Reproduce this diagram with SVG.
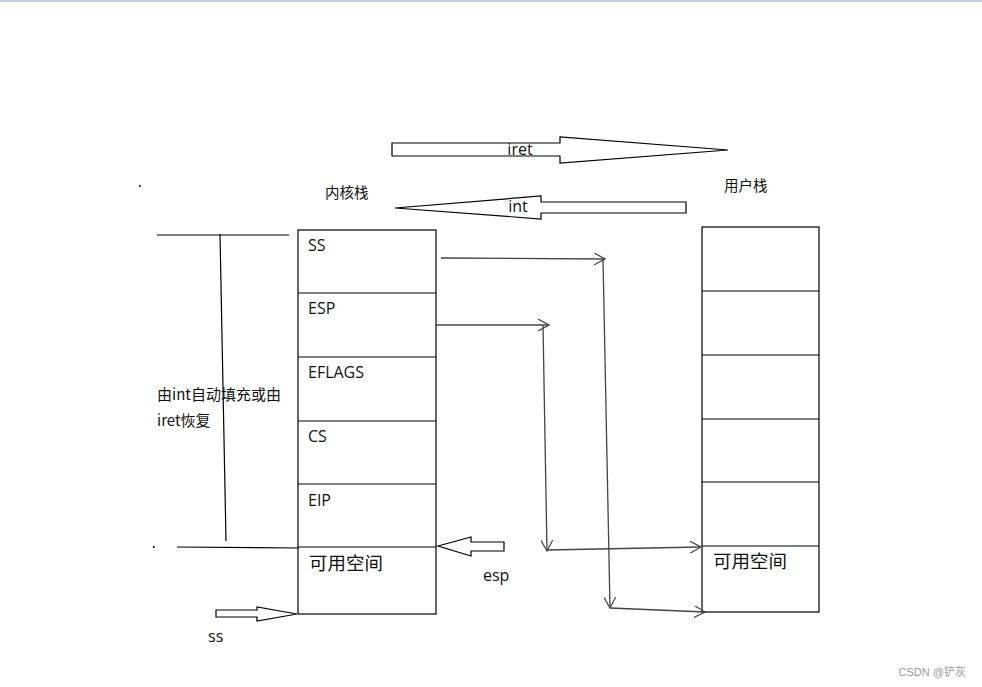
<svg xmlns="http://www.w3.org/2000/svg" width="982" height="687" viewBox="0 0 982 687">
<defs>
<style>
.box{fill:#fff;stroke:#000;stroke-width:1.2}
.div{stroke:#000;stroke-width:1.2;fill:none}
.t{font-family:"Open Sans","Noto Sans","Noto Sans CJK SC",sans-serif;font-size:16px;fill:#111}
.c{font-family:"Noto Sans CJK SC","Noto Sans",sans-serif;fill:#111}
.con{stroke:#444;stroke-width:1.3;fill:none}
.hol{fill:#fff;stroke:#000;stroke-width:1.2}
</style>
<marker id="ah" viewBox="0 0 12 12" refX="11" refY="6" markerWidth="12" markerHeight="12" markerUnits="userSpaceOnUse" orient="auto">
<path d="M0,0 L11,6 L0,12" fill="none" stroke="#444" stroke-width="1.2"/>
</marker>
</defs>
<rect x="0" y="0" width="982" height="687" fill="#fff"/>
<rect x="0" y="0" width="982" height="2" fill="#c5cde0"/>

<g id="iret-arrow">
<polygon class="hol" points="392,143 560,143 560,137 728,150 560,163 560,156 392,156"/>
<text class="t" x="520" y="155" text-anchor="middle" font-size="14">iret</text>
</g>
<g id="int-arrow">
<polygon class="hol" points="686,202 541,202 541,196 395,208 541,219 541,213 686,213"/>
<text class="t" x="518" y="212" text-anchor="middle" font-size="14">int</text>
</g>
<g id="kernel-label"><text class="c" x="325" y="198" font-size="14.5">内核栈</text></g>
<g id="user-label"><text class="c" x="724" y="191" font-size="14.5">用户栈</text></g>

<g id="kernel-stack">
<rect class="box" x="298" y="230" width="138" height="384"/>
<path class="div" d="M298,293H436M298,357H436M298,421H436M298,484H436M298,547H436"/>
<text class="t" x="308" y="251">SS</text>
<text class="t" x="308" y="314">ESP</text>
<text class="t" x="308" y="378">EFLAGS</text>
<text class="t" x="308" y="442">CS</text>
<text class="t" x="308" y="506">EIP</text>
<text class="c" x="309" y="570" font-size="18.5">可用空间</text>
</g>

<g id="user-stack">
<rect class="box" x="702" y="227" width="117" height="385"/>
<path class="div" d="M702,291H819M702,355H819M702,419H819M702,482H819M702,546H819"/>
<text class="c" x="713" y="568" font-size="18.5">可用空间</text>
</g>

<g id="annotation">
<path class="div" d="M157,235H289M220,234L226,541M177,547L298,548"/>
<rect x="153" y="546" width="1.5" height="2" fill="#000"/>
<rect x="139" y="185" width="1.5" height="2" fill="#000"/>
<text class="c" x="157" y="400" font-size="15">由int自动填充或由</text>
<text class="c" x="157" y="426" font-size="15">iret恢复</text>
</g>

<g id="esp-arrow">
<polygon class="hol" points="438,546 471,537 471,542 504,542 504,551 471,551 471,556"/>
<text class="t" x="483" y="581" font-size="15">esp</text>
</g>
<g id="ss-arrow">
<polygon class="hol" points="216,610 257,610 257,607 297,614 257,621 257,617 216,617"/>
<text class="t" x="208" y="642" font-size="15">ss</text>
</g>

<g id="connectors">
<path class="con" d="M441,258L605,259" marker-end="url(#ah)"/>
<path class="con" d="M603,259L610,608" marker-end="url(#ah)"/>
<path class="con" d="M610,608L705,612" marker-end="url(#ah)"/>
<path class="con" d="M436,325L549,325" marker-end="url(#ah)"/>
<path class="con" d="M543,325L547,551" marker-end="url(#ah)"/>
<path class="con" d="M547,550L701,547" marker-end="url(#ah)"/>
</g>

<g id="watermark"><text x="966" y="676" text-anchor="end" font-family="'Liberation Sans','Noto Sans CJK SC',sans-serif" font-size="11" fill="#999">CSDN @铲灰</text></g>
</svg>
